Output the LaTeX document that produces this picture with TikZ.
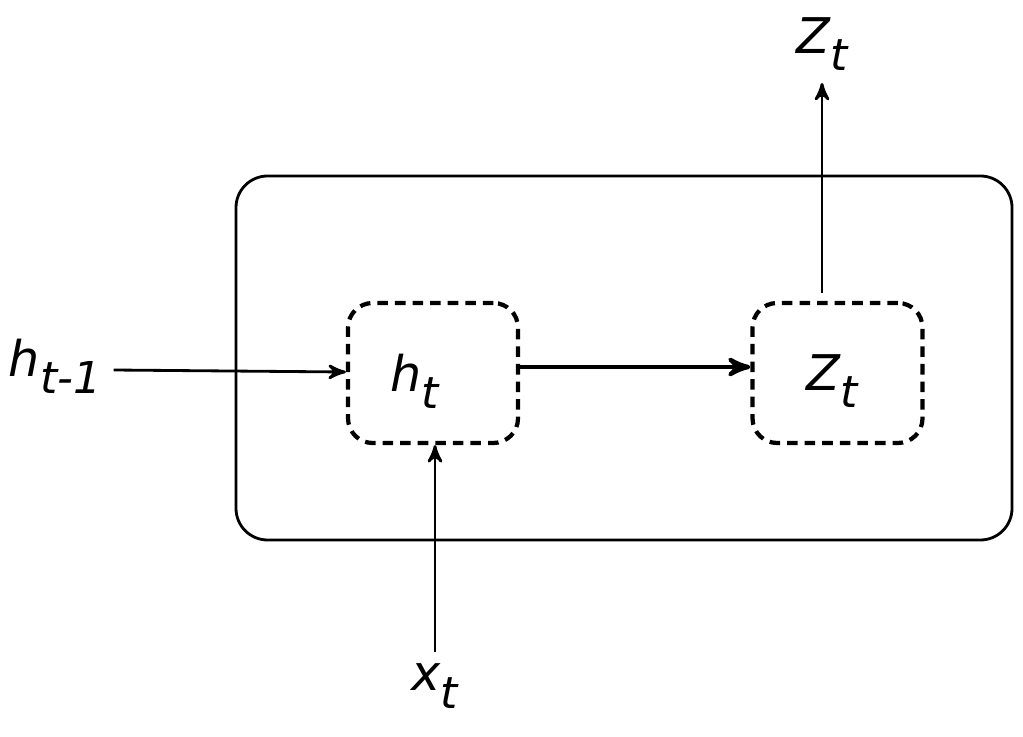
\documentclass[tikz,border=0pt]{standalone}
\usepackage{fontspec}
\setmainfont{DejaVu Sans}
\usetikzlibrary{positioning, arrows}
\tikzset{
>=stealth', % arrow heads
cell/.style={draw, very thick, dash pattern=on 3pt off 2pt, rounded corners=7pt, minimum width=1.7cm, minimum height=1.4cm},
lbl/.style={font=\fontsize{14}{16}\selectfont\itshape},
}
\newcommand{\sub}[2]{#1\raisebox{-0.35em}{\fontsize{12.5}{15}\selectfont #2}}
\begin{document}
\begin{tikzpicture}
  \useasboundingbox (0,0) rectangle (10.23,7.36);
  \draw[thick, rounded corners=9pt] (2.36,1.96) rectangle (10.12,5.60);
  \node[cell] (ht) at (4.33,3.63) {};
  \node[lbl] at (4.15,3.55) {\sub{h}{t}};
  \node[cell] (zt) at (8.375,3.63) {};
  \node[lbl] at (8.32,3.55) {\sub{Z}{t}};
  \node[lbl] (hprev) at (0.55,3.70) {\sub{h}{t-1}};
  \node[lbl] (xin) at (4.35,0.50) {\sub{x}{t}};
  \node[lbl] (zout) at (8.22,6.92) {\sub{Z}{t}};
  \draw[->, thick] (hprev.east |- 0,3.66) -- (ht.west |- 0,3.64);
  \draw[->, very thick] (ht.east |- 0,3.69) -- (zt.west |- 0,3.69);
  \draw[->, thick] (xin.north -| 4.35,0) -- (ht.south -| 4.35,0);
  \draw[->, thick] ([yshift=0.08cm]zt.north -| 8.22,0) -- (zout.south -| 8.22,0);
\end{tikzpicture}
\end{document}
